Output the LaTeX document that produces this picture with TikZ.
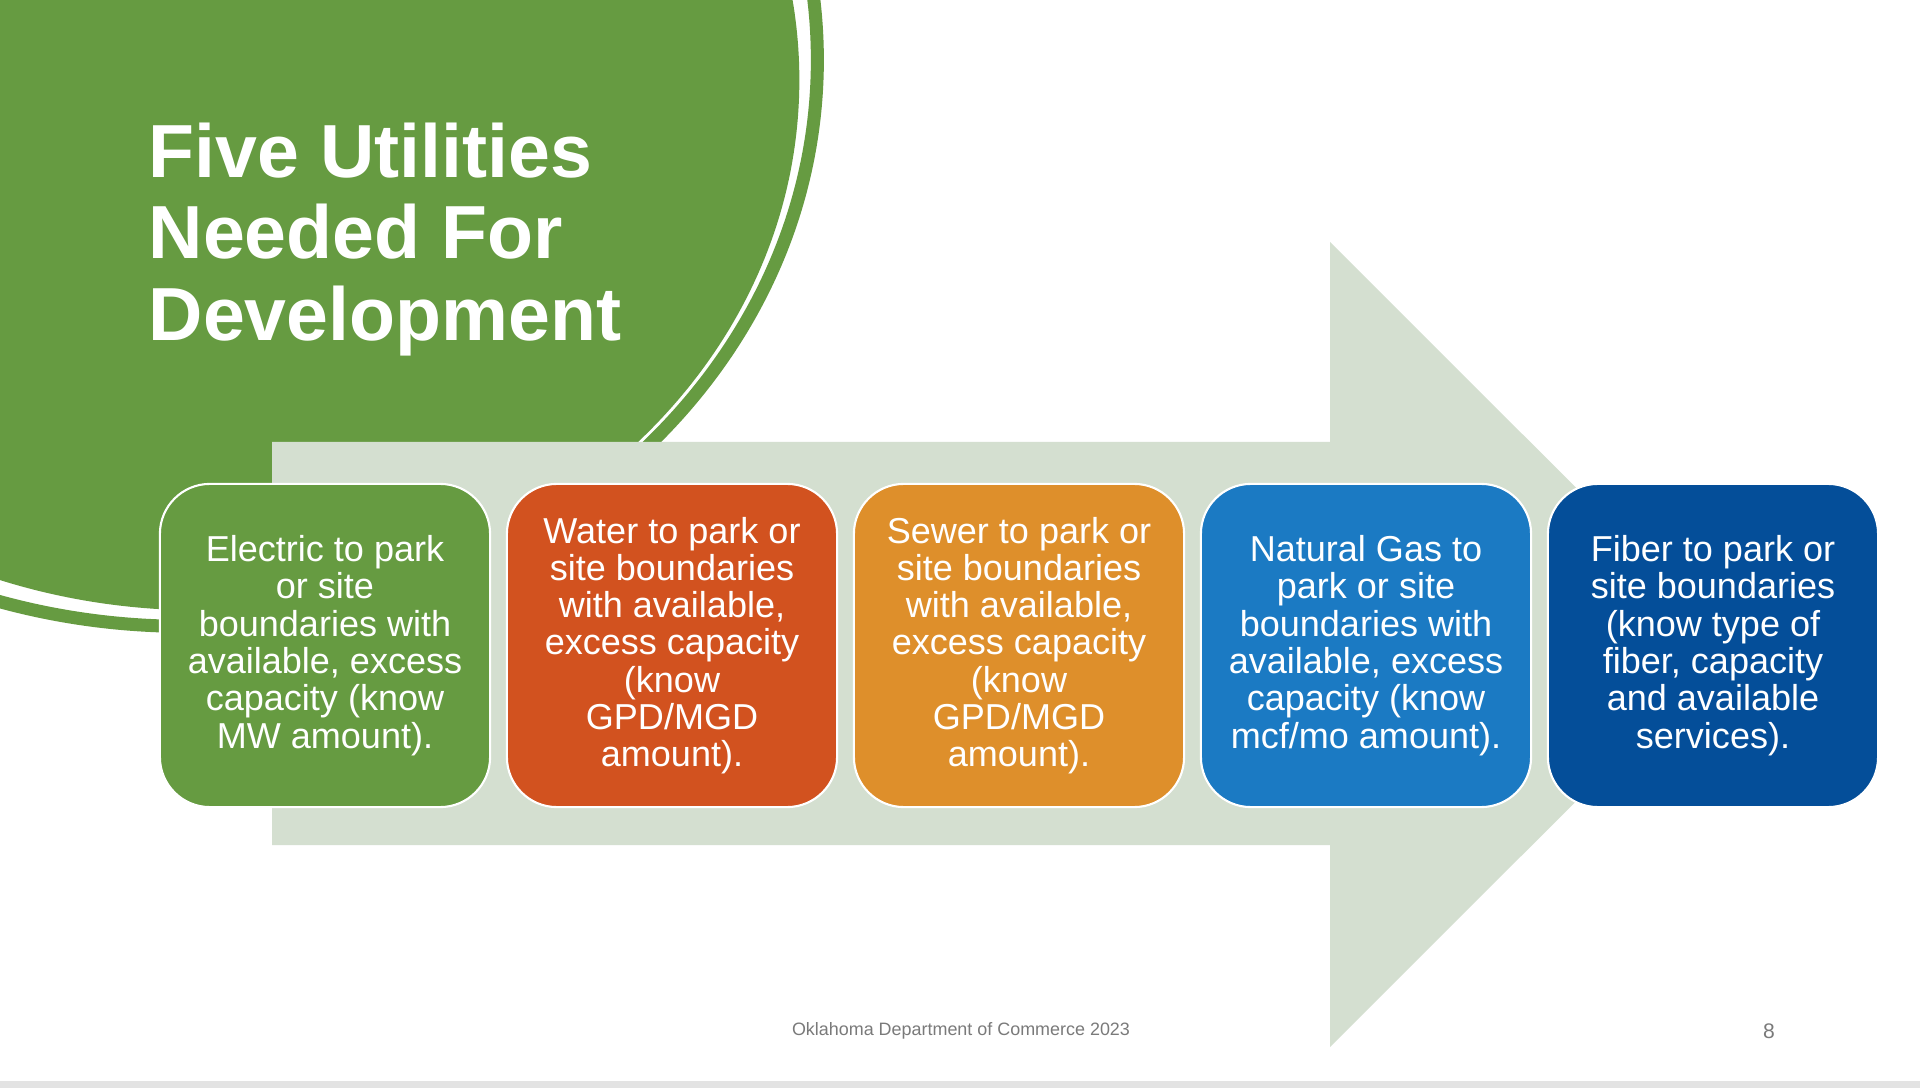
\documentclass[tikz,border=0pt]{standalone}
\usepackage{fontspec}
\setmainfont{Liberation Sans}
\definecolor{cgreen}{HTML}{669B41}
\definecolor{cred}{HTML}{D2521F}
\definecolor{corange}{HTML}{DE8F2B}
\definecolor{cblue}{HTML}{1B7AC3}
\definecolor{cdblue}{HTML}{044E99}
\definecolor{arrowc}{HTML}{D4DFD0}
\definecolor{lightbar}{HTML}{E3E3E3}
\definecolor{footgray}{HTML}{7A7A7A}
\begin{document}
\begin{tikzpicture}[x=0.01cm,y=-0.01cm,
  box/.style={draw=white, line width=0.6pt, rounded corners=0.5cm,
    minimum width=3.3cm, minimum height=3.23cm, inner sep=0pt,
    text=white, align=center, font=\fontsize{10.25}{10.6}\selectfont}]
\useasboundingbox (0,0) rectangle (1920,1088);
\clip (0,0) rectangle (1920,1088);
\fill[white] (0,0) rectangle (1920,1088);
\fill[lightbar] (0,1081) rectangle (1920,1088);
% green circle and ring
\fill[cgreen] (200,80) ellipse [x radius=5.99cm, y radius=5.30cm];
\draw[cgreen, line width=3.7pt] (185,60) ellipse [x radius=6.32cm, y radius=5.66cm];
% big arrow
\fill[arrowc] (272,442) -- (1330,442) -- (1330,242) -- (1733,644.5)
  -- (1330,1047) -- (1330,845) -- (272,845) -- cycle;
% title
\node[anchor=north west, inner sep=0pt, align=left, text=white,
  font=\bfseries\fontsize{21.4}{23.2}\selectfont] (title) at (148,122)
  {Five Utilities\\Needed For\\Development};
% boxes
\node[box, fill=cgreen] (b1) at (325,645.5)
  {Electric to park\\or site\\boundaries with\\available, excess\\capacity (know\\MW amount).};
\node[box, fill=cred] (b2) at (672,645.5)
  {Water to park or\\site boundaries\\with available,\\excess capacity\\(know\\GPD/MGD\\amount).};
\node[box, fill=corange] (b3) at (1019,645.5)
  {Sewer to park or\\site boundaries\\with available,\\excess capacity\\(know\\GPD/MGD\\amount).};
\node[box, fill=cblue] (b4) at (1366,645.5)
  {Natural Gas to\\park or site\\boundaries with\\available, excess\\capacity (know\\mcf/mo amount).};
\node[box, fill=cdblue] (b5) at (1713,645.5)
  {Fiber to park or\\site boundaries\\(know type of\\fiber, capacity\\and available\\services).};
% footer
\node[text=footgray, font=\fontsize{5.1}{6}\selectfont] (footer) at (961,1031)
  {Oklahoma Department of Commerce 2023};
\node[text=footgray, font=\fontsize{6}{7}\selectfont] (pagenum) at (1769,1031) {8};
\end{tikzpicture}
\end{document}
